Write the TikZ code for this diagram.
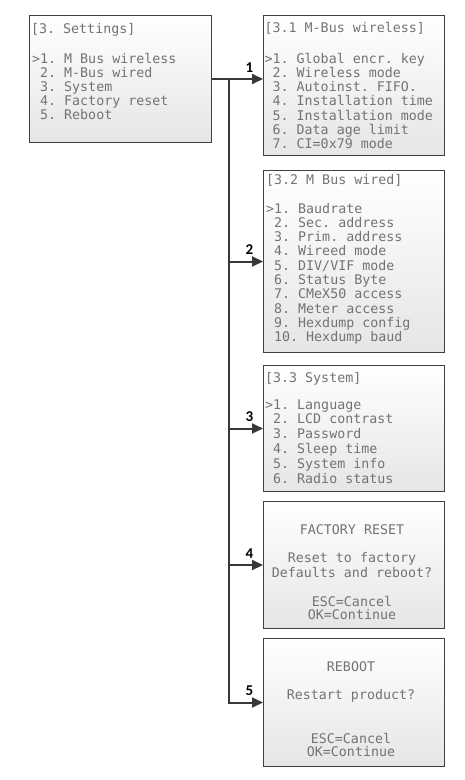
\documentclass[tikz,border=0pt]{standalone}
\usepackage{fontspec}
\setmonofont{DejaVu Sans Mono}
\newfontfamily\labelfont{Carlito}
\usetikzlibrary{arrows.meta}

\tikzset{
  screen/.style={draw=black!75, line width=1pt, top color=white, bottom color=black!10, anchor=north west, inner sep=0pt},
  lcd/.style={font=\ttfamily\fontsize{13.3}{14}\selectfont, text=black!55, inner sep=0pt, anchor=base west},
  lcdmid/.style={lcd, anchor=base},
  wire/.style={draw=black!78, line width=2pt},
  link/.style={wire, -{Triangle[length=11pt,width=10pt]}},
  num/.style={font=\labelfont\bfseries\fontsize{15}{15}\selectfont, inner sep=0pt, above=6pt, pos=0.6}
}

\begin{document}
\begin{tikzpicture}[x=1pt,y=-1pt]
\useasboundingbox (0,0) rectangle (465,780);

% screens
\node[screen, minimum width=182pt, minimum height=127pt] (settings) at (29,15) {};
\node[screen, minimum width=181pt, minimum height=140pt] (b1) at (263,15) {};
\node[screen, minimum width=181pt, minimum height=182pt] (b2) at (263,170) {};
\node[screen, minimum width=181pt, minimum height=126pt] (b3) at (263,365) {};
\node[screen, minimum width=181pt, minimum height=127pt] (b4) at (263,501) {};
\node[screen, minimum width=181pt, minimum height=128pt] (b5) at (263,638) {};

% main menu
\node[lcd] (set-t) at (31,33) {[3. Settings]};
\foreach \t [count=\i] in {{>1. M Bus wireless},{\ 2. M-Bus wired},{\ 3. System},{\ 4. Factory reset},{\ 5. Reboot}}
  \node[lcd] (set-\i) at (32,{63+14*(\i-1)}) {\t};

% 3.1 wireless
\node[lcd] (wl-t) at (264.5,32) {[3.1 M-Bus wireless]};
\foreach \t [count=\i] in {{>1. Global encr. key},{\ 2. Wireless mode},{\ 3. Autoinst. FIFO.},{\ 4. Installation time},{\ 5. Installation mode},{\ 6. Data age limit},{\ 7. CI=0x79 mode}}
  \node[lcd] (wl-\i) at (264.5,{63+14.3*(\i-1)}) {\t};

% 3.2 wired
\node[lcd] (wd-t) at (266,184) {[3.2 M Bus wired]};
\foreach \t [count=\i] in {{>1. Baudrate},{\ 2. Sec. address},{\ 3. Prim. address},{\ 4. Wireed mode},{\ 5. DIV/VIF mode},{\ 6. Status Byte},{\ 7. CMeX50 access},{\ 8. Meter access},{\ 9. Hexdump config},{\ 10. Hexdump baud}}
  \node[lcd] (wd-\i) at (266,{213+14.33*(\i-1)}) {\t};

% 3.3 system
\node[lcd] (sy-t) at (265,382) {[3.3 System]};
\foreach \t [count=\i] in {{>1. Language},{\ 2. LCD contrast},{\ 3. Password},{\ 4. Sleep time},{\ 5. System info},{\ 6. Radio status}}
  \node[lcd] (sy-\i) at (265,{409+14.8*(\i-1)}) {\t};

% factory reset
\foreach \t/\y [count=\i] in {FACTORY RESET/534,Reset to factory/562,Defaults and reboot?/577,ESC=Cancel/606,OK=Continue/619}
  \node[lcdmid] (fr-\i) at (352,\y) {\t};

% reboot
\foreach \t/\y [count=\i] in {REBOOT/671,Restart product?/699,ESC=Cancel/743,OK=Continue/756}
  \node[lcdmid] (rb-\i) at (351,\y) {\t};

% connectors
\coordinate (j1) at (229,0 |- settings.east);
\draw[link] (settings.east) -- (j1) -- node[num] {1} (j1 -| b1.west);
\draw[link] (j1) |- node[num, pos=0.8] {5} (b5.west);
\foreach \b/\n in {b2/2,b3/3,b4/4}
  \draw[link] (j1 |- \b.west) -- node[num] {\n} (\b.west);

\end{tikzpicture}
\end{document}
